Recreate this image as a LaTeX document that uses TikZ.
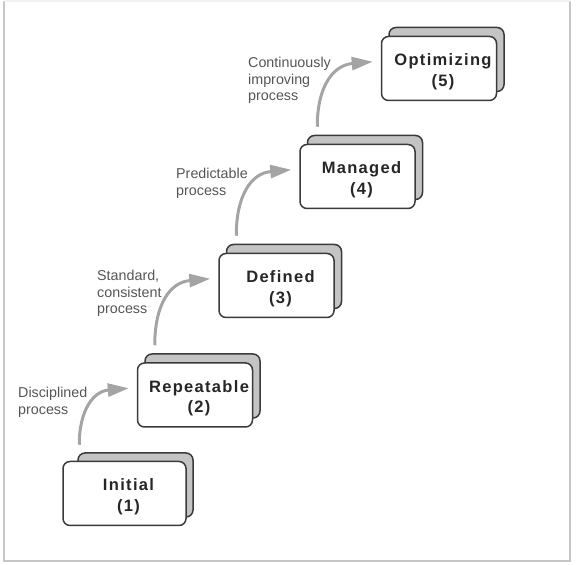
\documentclass[tikz,border=0pt]{standalone}
\usepackage{fontspec}
\setsansfont{Liberation Sans}
\newfontfamily\stagefont[LetterSpace=8]{Liberation Sans}
\usepackage{tikz}
\usetikzlibrary{arrows.meta}
\definecolor{boxline}{HTML}{3A3A3A}
\definecolor{backfill}{HTML}{C4C4C4}
\definecolor{notegray}{HTML}{555555}
\definecolor{arrowgray}{HTML}{A4A4A4}
\definecolor{framegray}{HTML}{C6C6C6}

\begin{document}
\begin{tikzpicture}[x=1pt,y=1pt]
\tikzstyle{front}=[rectangle, rounded corners=7pt, draw=boxline, line width=1.5pt, fill=white, minimum width=115pt, minimum height=64pt, inner sep=0pt]
\tikzstyle{back}=[front, fill=backfill]
\tikzstyle{stage}=[font=\stagefont\bfseries\fontsize{16.5}{20.5}\selectfont, align=center, text=black!85, inner sep=0pt]
\tikzstyle{note}=[font=\sffamily\fontsize{14.3}{16.5}\selectfont, align=left, text=notegray, anchor=north west, inner sep=0pt]
\tikzstyle{connect}=[-{Triangle[length=21pt,width=13pt]}, line width=3pt, draw=arrowgray]
\tikzstyle{frame}=[draw=framegray, line width=1.2pt]

	\useasboundingbox (0,0) rectangle (576,565);
	\draw[frame] (4,564) -- (4,4) -- (570,4) -- (570,564);
	\draw[frame, draw=framegray!25] (4,564) -- (570,564);

	   \pgfmathsetmacro{\bx}{7.5};
	   \pgfmathsetmacro{\by}{9};

	% back sheets
	\node[back] (back1) at (135.5,80) {};
	\node[back] (back2) at (195+\bx,170+\by) {};
	\node[back] (back3) at (276.5+\bx,279.5+\by) {};
	\node[back] (back4) at (357.5+\bx,388.5+\by) {};
	\node[back] (back5) at (439+\bx,496.5+\by) {};

	% front sheets
	\node[front, minimum width=123pt] (front1) at (124.5,71.5) {};
	\node[front] (front2) at (195,170) {};
	\node[front] (front3) at (276.5,279.5) {};
	\node[front] (front4) at (357.5,388.5) {};
	\node[front] (front5) at (439,496.5) {};

	\node[stage] (stage1) at ([shift={(4pt,-3pt)}]front1.center) {Initial\\(1)};
	\node[stage] (stage2) at ([shift={(4pt,-3pt)}]front2.center) {Repeatable\\(2)};
	\node[stage] (stage3) at ([shift={(4pt,-3pt)}]front3.center) {Defined\\(3)};
	\node[stage] (stage4) at ([shift={(4pt,-3pt)}]front4.center) {Managed\\(4)};
	\node[stage] (stage5) at ([shift={(4pt,-3pt)}]front5.center) {Optimizing\\(5)};

	\node[note] (note1) at (18,178) {Disciplined\\process};
	\node[note] (note2) at (97,295) {Standard,\\consistent\\process};
	\node[note] (note3) at (176,397) {Predictable\\process};
	\node[note] (note4) at (248,508) {Continuously\\improving\\process};

	\draw[connect] ([shift={(17pt,16pt)}]front1.north west) to[out=90,in=185,looseness=1.2] ([shift={(-8pt,-26pt)}]front2.north west);
	\draw[connect] ([shift={(18pt,17pt)}]front2.north west) to[out=90,in=185,looseness=1.2] ([shift={(-8pt,-26pt)}]front3.north west);
	\draw[connect] ([shift={(18pt,17pt)}]front3.north west) to[out=90,in=185,looseness=1.2] ([shift={(-8pt,-26pt)}]front4.north west);
	\draw[connect] ([shift={(18pt,17pt)}]front4.north west) to[out=90,in=185,looseness=1.2] ([shift={(-8pt,-26pt)}]front5.north west);

\end{tikzpicture}
\end{document}
